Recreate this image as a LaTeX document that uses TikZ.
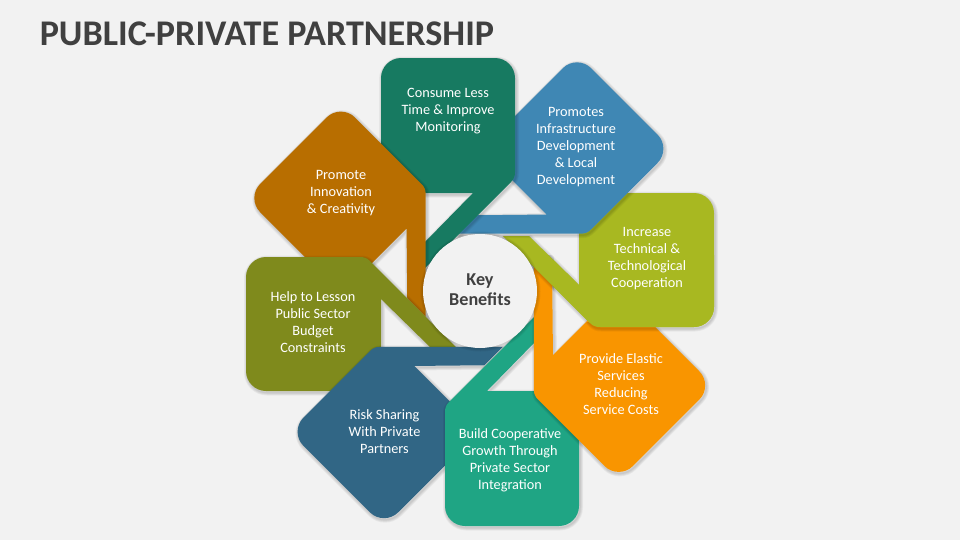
\documentclass[tikz,border=0pt]{standalone}
\usepackage{fontspec}
\setmainfont{Carlito}
\definecolor{bgc}{HTML}{F2F2F2}
\definecolor{c1}{HTML}{177A61}
\definecolor{c2}{HTML}{3F87B4}
\definecolor{c3}{HTML}{A8B821}
\definecolor{c4}{HTML}{F99500}
\definecolor{c5}{HTML}{1FA584}
\definecolor{c6}{HTML}{316685}
\definecolor{c7}{HTML}{7F8A1C}
\definecolor{c8}{HTML}{B86E00}
\definecolor{txd}{HTML}{404040}
\newcommand\petalpath{(381,78) .. controls (381,67) and (390,58) .. (401,58) -- (495,58) .. controls (506,58) and (515,67) .. (515,78) -- (515,172) .. controls (515,176) and (514,179) .. (511,182) -- (424,269) -- (424,243) -- (473,193) -- (401,193) .. controls (390,193) and (381,184) .. (381,173) -- cycle}
% #1 clockwise angle, #2 #3 small shift
\newcommand\petalshade[3]{%
  \begin{scope}[shift={(#2+1,#3+1.5)},rotate around={-#1:(480,292)}]
    \draw[softshade,line width=6*.75pt] \petalpath;
    \draw[softshade,line width=4.5*.75pt] \petalpath;
    \draw[softshade,line width=3*.75pt] \petalpath;
    \draw[softshade,line width=1.5*.75pt] \petalpath;
  \end{scope}}
\newcommand\petalfill[4]{%
  \begin{scope}[shift={(#3,#4)},rotate around={-#1:(480,292)}]
    \fill[#2] \petalpath;
  \end{scope}}
\newcommand\petal[4]{\petalshade{#1}{#3}{#4}\petalfill{#1}{#2}{#3}{#4}}
\tikzset{
  softshade/.style={draw=black,opacity=.045,line join=round},
  label/.style={text=white,align=center,inner sep=0pt,font=\fontsize{10.7}{12.75}\selectfont},
  hub/.style={text=txd,align=center,inner sep=0pt,font=\fontsize{13.6}{15}\selectfont\bfseries},
  heading/.style={text=txd,anchor=west,inner sep=0pt,font=\fontsize{27.1}{30}\selectfont\bfseries}
}
\begin{document}
\begin{tikzpicture}[x=.75pt,y=-.75pt]
\useasboundingbox (0,0) rectangle (960,540);
\fill[bgc] (0,0) rectangle (960,540);
\node[heading] (title) at (39.5,34) {PUBLIC-PRIVATE PARTNERSHIP};
\petal{90}{c3}{0}{0}
\petal{45}{c2}{1.5}{-2.5}
\petal{0}{c1}{0}{0}
\petal{315}{c8}{1.5}{1.5}
\petal{270}{c7}{0}{0}
\petal{225}{c6}{-0.5}{-1}
\petal{180}{c5}{0}{0}
\petal{135}{c4}{-2}{-2}
\begin{scope}
  \clip (480,255) -- (554,255) -- (554,357) -- (587,322) -- (650,322) -- (684,355) -- (480,355) -- cycle;
  \petalshade{90}{0}{0}
\end{scope}
\begin{scope}
  \clip (480,255) rectangle (730,350);
  \petalfill{90}{c3}{0}{0}
\end{scope}
\foreach \w in {6,4,2}{
  \fill[black,opacity=.05] (480.5,291.5) circle ({57+\w/2});
}
\fill[bgc] (480,291) circle (57);
\node[hub] (hub) at (480,289.5) {Key\\Benefits};
\node[label] (n1) at (448,111.5) {Consume Less\\Time \& Improve\\Monitoring};
\node[label] (n2) at (576,147.5) {Promotes\\Infrastructure\\Development\\\& Local\\Development};
\node[label] (n3) at (647,259) {Increase\\Technical \&\\Technological\\Cooperation};
\node[label] (n4) at (621,384) {Provide Elastic\\Services\\Reducing\\Service Costs};
\node[label] (n5) at (510,460) {Build Cooperative\\Growth Through\\Private Sector\\Integration};
\node[label] (n6) at (384.5,432) {Risk Sharing\\With Private\\Partners};
\node[label] (n7) at (313,322) {Help to Lesson\\Public Sector\\Budget\\Constraints};
\node[label] (n8) at (341,193) {Promote\\Innovation\\\& Creativity};
\end{tikzpicture}
\end{document}
